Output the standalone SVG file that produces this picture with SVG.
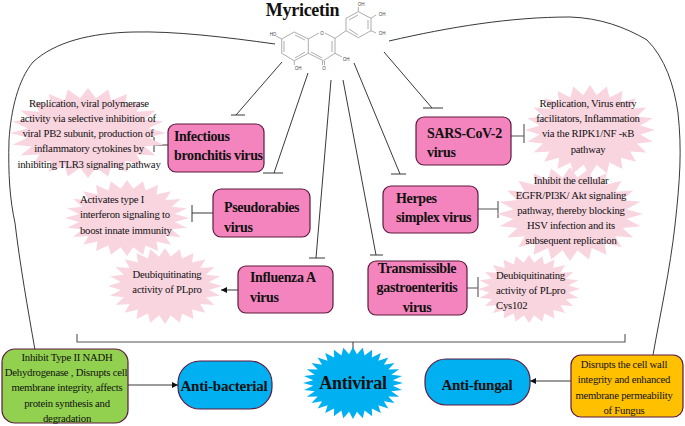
<svg xmlns="http://www.w3.org/2000/svg" width="685" height="426" viewBox="0 0 685 426">
<style>
text{font-family:"Liberation Serif","Times New Roman",serif;fill:#111}
.b{font-size:10.7px;letter-spacing:-.22px}
.m{text-anchor:middle}
.h{font-size:14px;font-weight:bold;letter-spacing:-.35px}
.box{fill:#f484bd;stroke:#5c1a3f;stroke-width:1.2}
.c{fill:none;stroke:#222;stroke-width:.9}
.g{fill:none;stroke:#555;stroke-width:1.1}
.mol{fill:none;stroke:#8a8a8a;stroke-width:.7}
.lab{font-family:"Liberation Sans",Arial,sans-serif;font-size:4.5px;fill:#444;text-anchor:middle}
.burst{fill:#f9d5e0}
</style>
<defs>
<polygon id="star" points="1,0 .773,.102 .966,.259 .721,.299 .866,.5 .619,.475 .707,.707 .475,.619 .5,.866 .299,.721 .259,.966 .102,.773 0,1 -.102,.773 -.259,.966 -.299,.721 -.5,.866 -.475,.619 -.707,.707 -.619,.475 -.866,.5 -.721,.299 -.966,.259 -.773,.102 -1,0 -.773,-.102 -.966,-.259 -.721,-.299 -.866,-.5 -.619,-.475 -.707,-.707 -.475,-.619 -.5,-.866 -.299,-.721 -.259,-.966 -.102,-.773 0,-1 .102,-.773 .259,-.966 .299,-.721 .5,-.866 .475,-.619 .707,-.707 .619,-.475 .866,-.5 .721,-.299 .966,-.259 .773,-.102"/>
<polygon id="star32" points="1,0 .796,.078 .981,.195 .766,.232 .924,.383 .706,.377 .831,.556 .618,.507 .707,.707 .507,.618 .556,.831 .377,.706 .383,.924 .232,.766 .195,.981 .078,.796 0,1 -.078,.796 -.195,.981 -.232,.766 -.383,.924 -.377,.706 -.556,.831 -.507,.618 -.707,.707 -.618,.507 -.831,.556 -.706,.377 -.924,.383 -.766,.232 -.981,.195 -.796,.078 -1,0 -.796,-.078 -.981,-.195 -.766,-.232 -.924,-.383 -.706,-.377 -.831,-.556 -.618,-.507 -.707,-.707 -.507,-.618 -.556,-.831 -.377,-.706 -.383,-.924 -.232,-.766 -.195,-.981 -.078,-.796 0,-1 .078,-.796 .195,-.981 .232,-.766 .383,-.924 .377,-.706 .556,-.831 .507,-.618 .707,-.707 .618,-.507 .831,-.556 .706,-.377 .924,-.383 .766,-.232 .981,-.195 .796,-.078"/>
<marker id="arr" markerUnits="userSpaceOnUse" markerWidth="7" markerHeight="6" refX="6" refY="3" orient="auto"><path d="M0 0L6 3L0 6z" fill="#111"/></marker>
</defs>
<g id="connectors">
<path class="c" d="M275 44C225 37 175 31 133 32C90 33 55 42 33 62C18 80 11 110 9 140C8 175 10 200 15 223C20 265 28 310 35 350"/>
<path class="c" d="M389 41C450 27 510 17 570 17C600 18 625 27 647 40C665 58 674 85 678 113C682 150 680 180 675 225C670 270 660 315 653 355"/>
<path class="c" d="M282 62L236 115M231 115H245"/>
<path class="c" d="M308 73L274 173M263 173H283"/>
<path class="c" d="M331 80L316 258M309 258H325"/>
<path class="c" d="M343 80L376 255M370 255H383"/>
<path class="c" d="M354 63L400 174M391 174H406"/>
<path class="c" d="M384 52L432 108M423 108H443"/>
<path class="c" d="M168 145H154M154 137V152"/>
<path class="c" d="M213 213H192M192 205V222"/>
<path class="c" d="M238 290H221" marker-end="url(#arr)"/>
<path class="g" d="M511 136H524M524 124V143"/>
<path class="g" d="M478 209H498M498 201V218"/>
<path class="g" d="M467 288H478M478 277V297"/>
<path class="g" d="M77 334V342H625V334"/>
<path class="c" d="M353 342V350"/>
<path class="c" d="M128 385H178" marker-end="url(#arr)"/>
<path class="c" d="M571 381H530" marker-end="url(#arr)"/>
</g>
<g id="myricetin">
<text x="302.500" y="16" class="m" style="font-size:18px;font-weight:bold;letter-spacing:-.3px">Myricetin</text>
<path class="mol" d="M281.7 39L294.3 32L308.3 39L308.3 53.3L294.3 60.7L281.7 53.3ZM308.3 39L319 33M325 33L335 38.3L335 53.3L323.3 60.7L308.3 53.3M335 38.3L346 30.7L346 18.3L358.3 11.7L371 18.3L371 30.7L358.3 37.7L346 30.7M284 41V52M295 35L305 40M295 58L305 52M332 41V52M311 52L322 58M349 20L358 15M368 20V29M349 29L358 35M322.5 61V65M324.5 61V65M276 36L281.7 39M294.3 60.7V65M335 53.3L342 57M358.3 11.7V7M371 18.3L376 15M371 30.7L376 33"/>
<text class="lab" x="273" y="36">HO</text>
<text class="lab" x="298" y="70">OH</text>
<text class="lab" x="324" y="70">O</text>
<text class="lab" x="322" y="34.500">O</text>
<text class="lab" x="346" y="61">OH</text>
<text class="lab" x="361" y="6">OH</text>
<text class="lab" x="382" y="16">OH</text>
<text class="lab" x="382" y="35">OH</text>
</g>
<g id="effect-ibv">
<use href="#star" class="burst" transform="translate(88 133) scale(78 45)"/>
<text class="b m" x="89" y="107">Replication, viral polymerase</text>
<text class="b m" x="88" y="122">activity via selective inhibition of</text>
<text class="b m" x="88" y="137">viral PB2 subunit, production of</text>
<text class="b m" x="89" y="152">inflammatory cytokines by</text>
<text class="b m" x="89" y="168">inhibiting TLR3 signaling pathway</text>
</g>
<g id="effect-prv">
<use href="#star" class="burst" transform="translate(127 218) scale(62 38)"/>
<text class="b" x="80" y="203">Activates type I</text>
<text class="b" x="80" y="218">interferon signaling to</text>
<text class="b" x="80" y="234">boost innate immunity</text>
</g>
<g id="effect-flu">
<use href="#star" class="burst" transform="translate(165 286) scale(57 38)"/>
<text class="b m" x="167" y="278">Deubiquitinating</text>
<text class="b m" x="167" y="293">activity of PLpro</text>
</g>
<g id="effect-sars">
<use href="#star" class="burst" transform="translate(590 130) scale(65 45)"/>
<text class="b m" x="588" y="107">Replication, Virus entry</text>
<text class="b m" x="588" y="122">facilitators, Inflammation</text>
<text class="b m" x="588" y="137">via the RIPK1/NF -κB</text>
<text class="b m" x="588" y="153">pathway</text>
</g>
<g id="effect-hsv">
<use href="#star" class="burst" transform="translate(570 214) scale(73 47)"/>
<text class="b m" x="571" y="184">Inhibit the cellular</text>
<text class="b m" x="571" y="199">EGFR/PI3K/ Akt signaling</text>
<text class="b m" x="571" y="214">pathway, thereby blocking</text>
<text class="b m" x="571" y="229">HSV infection and its</text>
<text class="b m" x="571" y="244">subsequent replication</text>
</g>
<g id="effect-tge">
<use href="#star" class="burst" transform="translate(529 289) scale(51 34)"/>
<text class="b" x="496" y="279">Deubiquitinating</text>
<text class="b" x="496" y="294">activity of PLpro</text>
<text class="b" x="496" y="309">Cys102</text>
</g>
<g id="ibv"><rect class="box" x="168" y="124" width="96" height="48" rx="8"/>
<text class="h" x="174" y="141">Infectious</text><text class="h" x="174" y="160">bronchitis virus</text></g>
<g id="prv"><rect class="box" x="213" y="189" width="97" height="48" rx="8"/>
<text class="h" x="224" y="212">Pseudorabies</text><text class="h" x="224" y="232">virus</text></g>
<g id="flu"><rect class="box" x="238" y="266" width="95" height="47" rx="8"/>
<text class="h" x="250" y="282">Influenza A</text><text class="h" x="250" y="302">virus</text></g>
<g id="sars"><rect class="box" x="416" y="117" width="95" height="48" rx="8"/>
<text class="h" x="427" y="138">SARS-CoV-2</text><text class="h" x="427" y="157">virus</text></g>
<g id="hsv"><rect class="box" x="383" y="186" width="95" height="47" rx="8"/>
<text class="h" x="396" y="203">Herpes</text><text class="h" x="396" y="222">simplex virus</text></g>
<g id="tge"><rect class="box" x="368" y="261" width="99" height="54" rx="8"/>
<text class="h m" x="417" y="273">Transmissible</text><text class="h m" x="417" y="292">gastroenteritis</text><text class="h m" x="417" y="312">virus</text></g>
<g id="antiviral">
<use href="#star32" fill="#00b0f0" transform="translate(353 383) scale(50 36)"/>
<text class="m" x="353" y="389" style="font-size:18px;font-weight:bold;letter-spacing:-.3px">Antiviral</text>
</g>
<g id="antibacterial-effect"><rect x="2" y="349" width="126" height="74" rx="13" fill="#92d050" stroke="#5c1a3f" stroke-width="1.2"/>
<text class="b m" x="67" y="361">Inhibit Type II NADH</text>
<text class="b m" x="66" y="376">Dehydrogenase , Disrupts cell</text>
<text class="b m" x="67" y="391">membrane integrity, affects</text>
<text class="b m" x="67" y="407">protein synthesis and</text>
<text class="b m" x="67" y="422">degradation</text></g>
<g id="antibacterial"><rect x="178" y="361" width="94" height="48" rx="22" fill="#00b0f0" stroke="#5c1a3f" stroke-width="1.2"/>
<text class="m" x="224" y="391" style="font-size:15px;font-weight:bold;letter-spacing:-.2px">Anti-bacterial</text></g>
<g id="antifungal"><rect x="425" y="359" width="105" height="46" rx="21" fill="#00b0f0" stroke="#5c1a3f" stroke-width="1.2"/>
<text class="m" x="477" y="390" style="font-size:15px;font-weight:bold;letter-spacing:-.3px">Anti-fungal</text></g>
<g id="antifungal-effect"><rect x="571" y="355" width="112" height="62" rx="10" fill="#ffc000" stroke="#5c1a3f" stroke-width="1.2"/>
<text class="b m" x="624" y="368">Disrupts the cell wall</text>
<text class="b m" x="624" y="383">integrity and enhanced</text>
<text class="b m" x="624" y="399">membrane permeability</text>
<text class="b m" x="624" y="414">of Fungus</text></g>
</svg>
